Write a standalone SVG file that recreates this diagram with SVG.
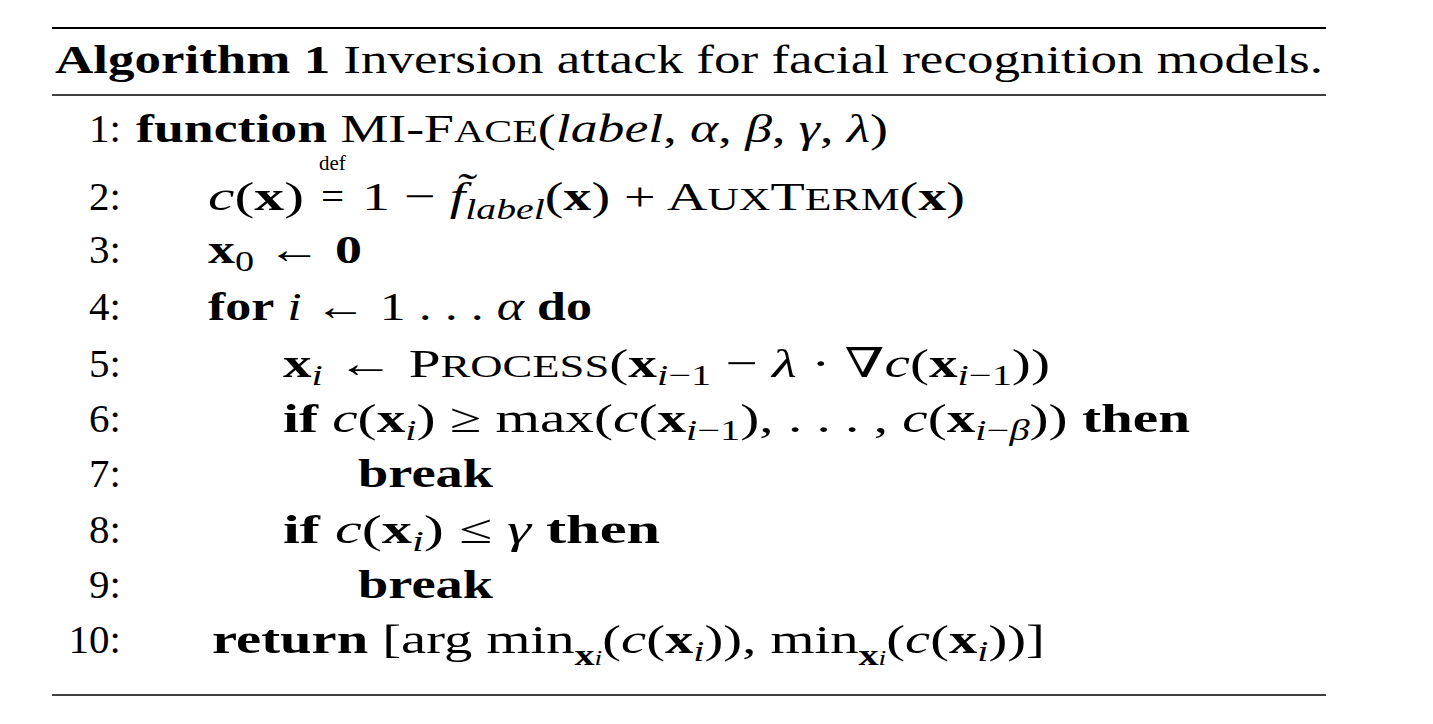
<svg xmlns="http://www.w3.org/2000/svg" width="1433" height="724" viewBox="0 0 1433 724">
<style>
text{font-family:"Liberation Serif","DejaVu Serif",serif;font-size:41px;fill:#000}
.b{font-weight:bold}
.i{font-style:italic}
.sc{font-size:32px}
.s{font-size:29px}
.n{text-anchor:end;font-size:41px}
</style>
<rect width="1433" height="724" fill="#fff"/>
<line x1="52" y1="28" x2="1326" y2="28" stroke="#000" stroke-width="2.2"/>
<line x1="52" y1="95" x2="1326" y2="95" stroke="#000" stroke-width="1.4"/>
<line x1="52" y1="695" x2="1326" y2="695" stroke="#000" stroke-width="1.4"/>
<text x="55" y="73" textLength="1268" lengthAdjust="spacingAndGlyphs"><tspan class="b">Algorithm 1</tspan> Inversion attack for facial recognition models.</text>
<g>
<text class="n" x="121" y="142">1:</text>
<text class="n" x="121" y="210">2:</text>
<text class="n" x="121" y="263">3:</text>
<text class="n" x="121" y="320">4:</text>
<text class="n" x="121" y="377">5:</text>
<text class="n" x="121" y="432">6:</text>
<text class="n" x="121" y="487">7:</text>
<text class="n" x="121" y="543">8:</text>
<text class="n" x="121" y="598">9:</text>
<text class="n" x="121" y="653">10:</text>
</g>
<text x="136" y="142" textLength="752" lengthAdjust="spacingAndGlyphs"><tspan class="b">function</tspan> MI-F<tspan class="sc">ACE</tspan>(<tspan class="i">label</tspan>, <tspan class="i">α</tspan>, <tspan class="i">β</tspan>, <tspan class="i">γ</tspan>, <tspan class="i">λ</tspan>)</text>
<text x="208" y="210" textLength="96" lengthAdjust="spacingAndGlyphs"><tspan class="i">c</tspan>(<tspan class="b">x</tspan>)</text>
<text x="321" y="210">=</text>
<text x="319" y="170" style="font-size:21px">def</text>
<text x="362" y="210" textLength="603" lengthAdjust="spacingAndGlyphs">1 − <tspan class="i">f̃</tspan><tspan class="i s" dy="9">label</tspan><tspan dy="-9">(</tspan><tspan class="b">x</tspan>) + A<tspan class="sc">UX</tspan>T<tspan class="sc">ERM</tspan>(<tspan class="b">x</tspan>)</text>
<text x="208" y="263" textLength="154" lengthAdjust="spacingAndGlyphs"><tspan class="b">x</tspan><tspan class="s" dy="8">0</tspan><tspan dy="-8"> ← </tspan><tspan class="b">0</tspan></text>
<text x="208" y="320" textLength="384" lengthAdjust="spacingAndGlyphs"><tspan class="b">for</tspan> <tspan class="i">i</tspan> ← 1 . . . <tspan class="i">α</tspan> <tspan class="b">do</tspan></text>
<text x="283" y="377" textLength="767" lengthAdjust="spacingAndGlyphs"><tspan class="b">x</tspan><tspan class="i s" dy="8">i</tspan><tspan dy="-8"> ← P</tspan><tspan class="sc">ROCESS</tspan>(<tspan class="b">x</tspan><tspan class="s" dy="8"><tspan class="i">i</tspan>−1</tspan><tspan dy="-8"> − </tspan><tspan class="i">λ</tspan> · ∇<tspan class="i">c</tspan>(<tspan class="b">x</tspan><tspan class="s" dy="8"><tspan class="i">i</tspan>−1</tspan><tspan dy="-8">))</tspan></text>
<text x="283" y="432" textLength="907" lengthAdjust="spacingAndGlyphs"><tspan class="b">if</tspan> <tspan class="i">c</tspan>(<tspan class="b">x</tspan><tspan class="i s" dy="8">i</tspan><tspan dy="-8">) ≥ max(</tspan><tspan class="i">c</tspan>(<tspan class="b">x</tspan><tspan class="s" dy="8"><tspan class="i">i</tspan>−1</tspan><tspan dy="-8">), . . . , </tspan><tspan class="i">c</tspan>(<tspan class="b">x</tspan><tspan class="s" dy="8"><tspan class="i">i</tspan>−<tspan class="i">β</tspan></tspan><tspan dy="-8">)) </tspan><tspan class="b">then</tspan></text>
<text x="358" y="487" class="b" textLength="135" lengthAdjust="spacingAndGlyphs">break</text>
<text x="283" y="543" textLength="377" lengthAdjust="spacingAndGlyphs"><tspan class="b">if</tspan> <tspan class="i">c</tspan>(<tspan class="b">x</tspan><tspan class="i s" dy="8">i</tspan><tspan dy="-8">) ≤ </tspan><tspan class="i">γ</tspan> <tspan class="b">then</tspan></text>
<text x="358" y="598" class="b" textLength="135" lengthAdjust="spacingAndGlyphs">break</text>
<text x="212" y="653" textLength="833" lengthAdjust="spacingAndGlyphs"><tspan class="b">return</tspan> [arg min<tspan class="s" dy="12"><tspan class="b">x</tspan><tspan class="i" style="font-size:20px">i</tspan></tspan><tspan dy="-12">(</tspan><tspan class="i">c</tspan>(<tspan class="b">x</tspan><tspan class="i s" dy="8">i</tspan><tspan dy="-8">)), min</tspan><tspan class="s" dy="12"><tspan class="b">x</tspan><tspan class="i" style="font-size:20px">i</tspan></tspan><tspan dy="-12">(</tspan><tspan class="i">c</tspan>(<tspan class="b">x</tspan><tspan class="i s" dy="8">i</tspan><tspan dy="-8">))]</tspan></text>
</svg>
